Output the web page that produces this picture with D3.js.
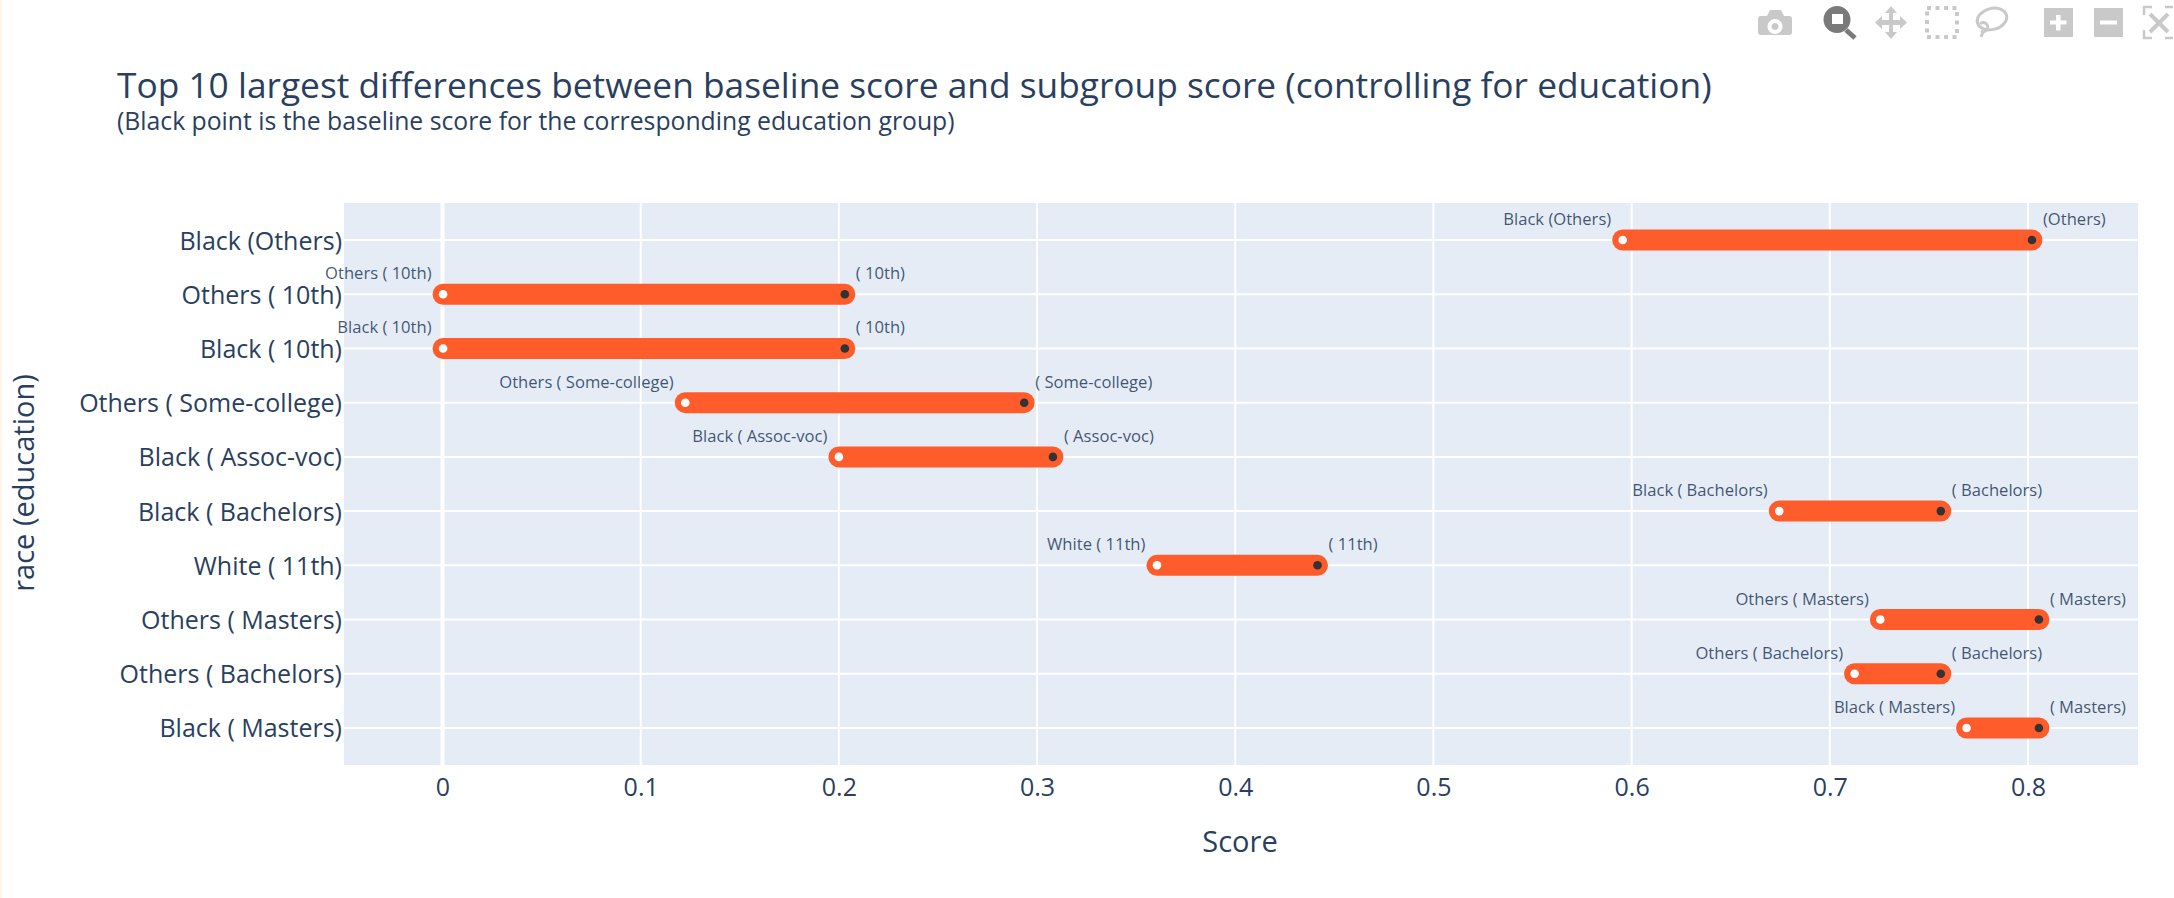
<!DOCTYPE html>
<html><head><meta charset="utf-8">
<script src="https://cdn.jsdelivr.net/npm/d3@7"></script>
<style>html,body{margin:0;padding:0;background:#fff;overflow:hidden}svg{display:block;font-family:"Open Sans",sans-serif}</style>
</head><body><svg id="c" width="2174" height="898"></svg>
<script>
const categories = ["Black (Others)","Others ( 10th)","Black ( 10th)","Others ( Some-college)","Black ( Assoc-voc)","Black ( Bachelors)","White ( 11th)","Others ( Masters)","Others ( Bachelors)","Black ( Masters)"];
const baselineLabels = ["(Others)","( 10th)","( 10th)","( Some-college)","( Assoc-voc)","( Bachelors)","( 11th)","( Masters)","( Bachelors)","( Masters)"];
const subgroupScores = [0.5955,0.0003,0.0003,0.1225,0.2,0.6745,0.3605,0.7255,0.7125,0.769];
const baselineScores = [0.802,0.203,0.203,0.2935,0.308,0.756,0.4415,0.8055,0.756,0.8055];
const xTicks = [0,0.1,0.2,0.3,0.4,0.5,0.6,0.7,0.8];
const titleText = "Top 10 largest differences between baseline score and subgroup score (controlling for education)";
const subtitleText = "(Black point is the baseline score for the corresponding education group)";
const xTitle = "Score", yTitle = "race (education)";

const ink = "#2a3f5f";
const svg = d3.select("#c");
const L=344,R=2138,T=203,B=765;
const x = d3.scaleLinear().domain([-0.0497,0.8555]).range([L,R]);
const y = d3.scalePoint().domain(categories).range([T,B]).padding(0.683);

svg.append("rect").attr("width",2).attr("height",898).attr("fill","#fff6e8");
svg.append("rect").attr("x",L).attr("y",T).attr("width",R-L).attr("height",B-T).attr("fill","#e5ecf6");

// grid
svg.append("g").selectAll("line").data(xTicks).join("line")
  .attr("x1",d=>x(d)).attr("x2",d=>x(d)).attr("y1",T).attr("y2",B)
  .attr("stroke","#fff").attr("stroke-width",d=>d===0?4:2);
svg.append("g").selectAll("line").data(categories).join("line")
  .attr("x1",L).attr("x2",R).attr("y1",d=>y(d)).attr("y2",d=>y(d))
  .attr("stroke","#fff").attr("stroke-width",2);

// axes
const ax = svg.append("g").attr("transform",`translate(0,${B})`)
  .call(d3.axisBottom(x).tickValues(xTicks).tickSize(0).tickPadding(13).tickFormat(d=>d===0?"0":d3.format(".1f")(d)));
const ay = svg.append("g").attr("transform",`translate(${L},1)`)
  .call(d3.axisLeft(y).tickSize(0).tickPadding(2));
[ax,ay].forEach(a=>{a.select(".domain").remove();a.selectAll("text").attr("fill",ink).style("font-size","25px").style("font-family",'"Open Sans",sans-serif');});

// dumbbells
const rows = categories.map((c,i)=>({c,a:subgroupScores[i],b:baselineScores[i],lb:baselineLabels[i]}));
svg.append("g").selectAll("line").data(rows).join("line")
  .attr("x1",d=>x(d.a)).attr("x2",d=>x(d.b)).attr("y1",d=>y(d.c)).attr("y2",d=>y(d.c))
  .attr("stroke","#ff5c2b").attr("stroke-width",21).attr("stroke-linecap","round");
svg.append("g").selectAll("circle").data(rows).join("circle")
  .attr("cx",d=>x(d.a)).attr("cy",d=>y(d.c)).attr("r",4.3).attr("fill","#fff");
svg.append("g").selectAll("circle").data(rows).join("circle")
  .attr("cx",d=>x(d.b)).attr("cy",d=>y(d.c)).attr("r",4.3).attr("fill","#333");
const lab = svg.append("g").attr("fill",ink).attr("fill-opacity",0.88).style("font-size","16.6px");
lab.selectAll("text.a").data(rows).join("text").attr("class","a")
  .attr("x",d=>x(d.a)-11.5).attr("y",d=>y(d.c)-15).attr("text-anchor","end").text(d=>d.c);
lab.selectAll("text.b").data(rows).join("text").attr("class","b")
  .attr("x",d=>x(d.b)+11).attr("y",d=>y(d.c)-15).text(d=>d.lb);

// titles
svg.append("text").attr("x",117).attr("y",98).attr("fill",ink).style("font-size","35.3px").text(titleText);
svg.append("text").attr("x",117).attr("y",130).attr("fill",ink).style("font-size","24.75px").text(subtitleText);
svg.append("text").attr("x",(L+R)/2-1).attr("y",852).attr("text-anchor","middle").attr("fill",ink).style("font-size","29px").text(xTitle);
svg.append("text").attr("transform",`translate(34,${(T+B)/2-1}) rotate(-90)`).attr("text-anchor","middle").attr("fill",ink).style("font-size","29px").text(yTitle);

// modebar
const g1="#c9c9c9", g2="#7a7a7a";
const mb = svg.append("g");
mb.append("path").attr("fill",g1).attr("fill-rule","evenodd").attr("d","M1761 16h6l3-6h11l3 6h5a3 3 0 0 1 3 3v13a3 3 0 0 1-3 3h-28a3 3 0 0 1-3-3V19a3 3 0 0 1 3-3zM1775 19a7.500 7.500 0 1 0 .01 0zM1775 23a3.500 3.500 0 1 1-.01 0z");
mb.append("path").attr("fill",g2).attr("fill-rule","evenodd").attr("d","M1837 6a12 12 0 1 1 0 27a12 12 0 0 1 0-27zM1832 14v10h11v-10z");
mb.append("path").attr("stroke",g2).attr("stroke-width",5).attr("d","M1846 30l9 8");
mb.append("path").attr("fill",g1).attr("d","M1891 6l6 7h-4v7h7v-4l7 6.500-7 6.500v-4h-7v7h4l-6 7-6-7h4v-7h-7v4l-7-6.500 7-6.500v4h7v-7h-4z");
mb.append("rect").attr("x",1927).attr("y",8).attr("width",30).attr("height",29).attr("fill","none").attr("stroke",g1).attr("stroke-width",4).attr("stroke-dasharray","4 4.500");
mb.append("ellipse").attr("cx",1992).attr("cy",19).attr("rx",15).attr("ry",10.500).attr("transform","rotate(-15 1992 19)").attr("fill","none").attr("stroke",g1).attr("stroke-width",3);
mb.append("path").attr("fill","none").attr("stroke",g1).attr("stroke-width",3).attr("d","M1980 24a4.500 4.500 0 1 1 1 7l2 1-2 5");
mb.append("path").attr("fill",g1).attr("fill-rule","evenodd").attr("d","M2044 8h29v29h-29zM2056 15v5.500h-6v4h6v6h4.500v-6h6v-4h-6v-5.500z");
mb.append("path").attr("fill",g1).attr("fill-rule","evenodd").attr("d","M2094 8h29v29h-29zM2100 20.500v4h17v-4z");
mb.append("path").attr("fill","none").attr("stroke",g1).attr("stroke-width",2.500).attr("d","M2144 15V7h8M2165 7h8M2144 30v8h8M2165 38h8");
mb.append("path").attr("fill","none").attr("stroke",g1).attr("stroke-width",4).attr("d","M2150 14l18 18M2168 14l-18 18");
</script></body></html>
